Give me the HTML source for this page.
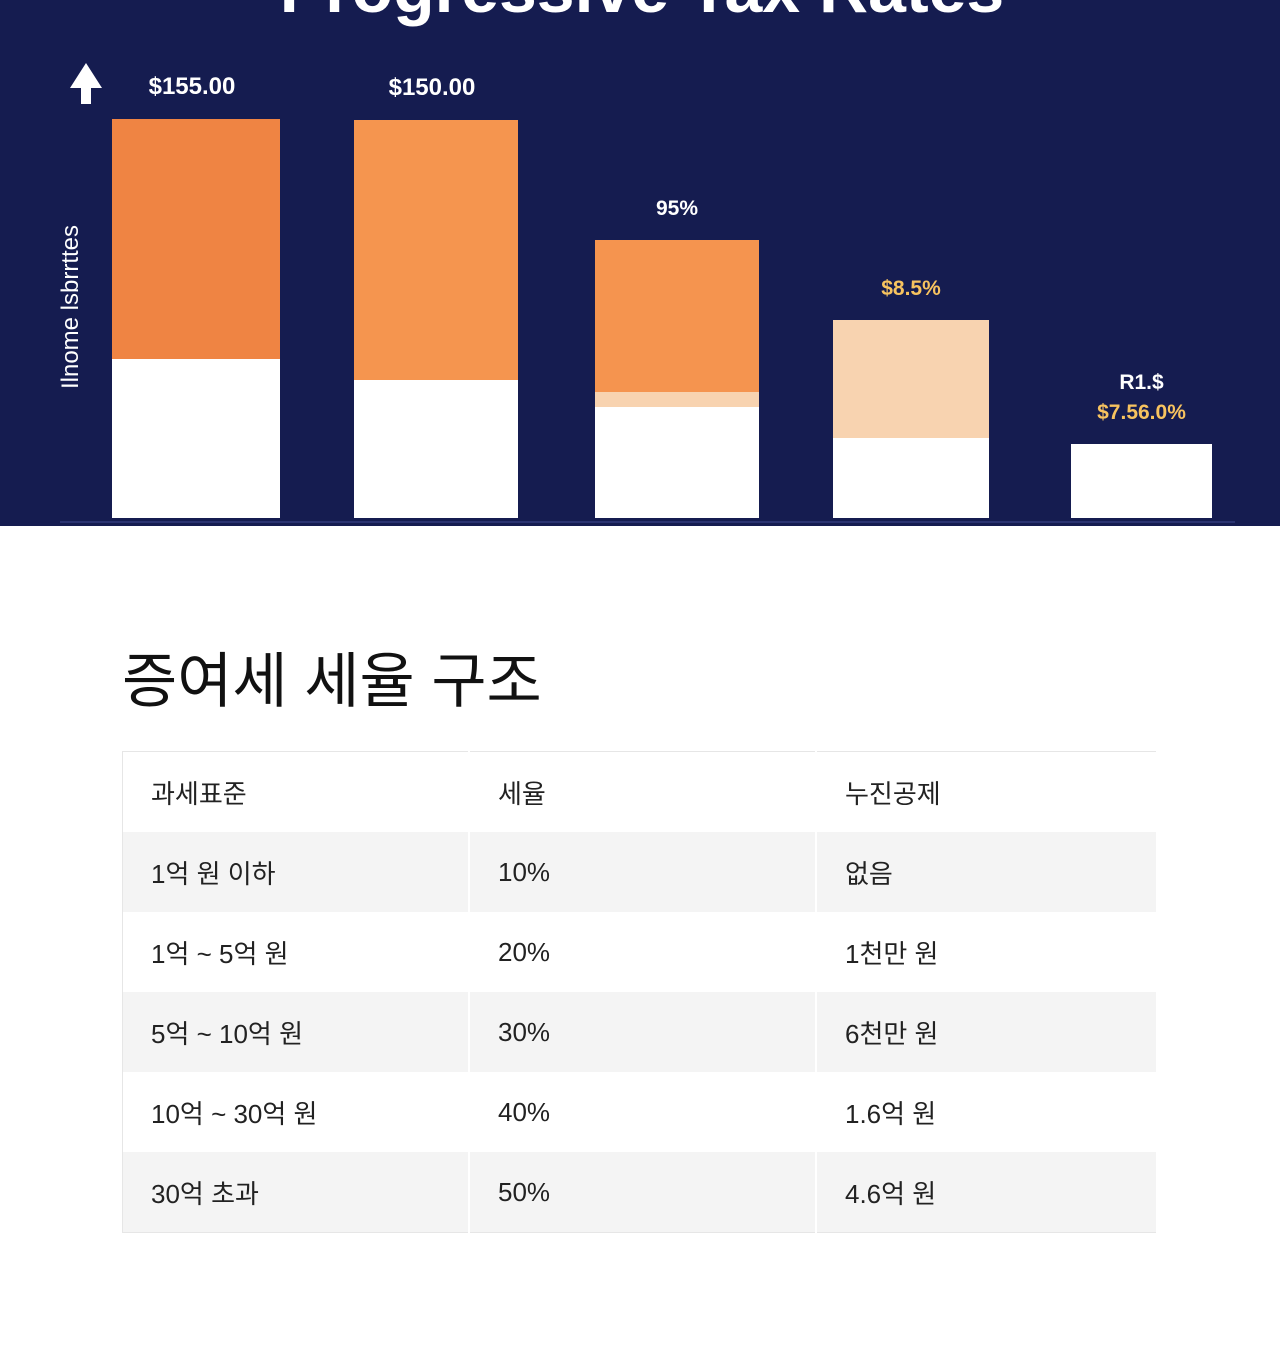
<!DOCTYPE html>
<html><head><meta charset="utf-8">
<style>
html,body{margin:0;padding:0;background:#fff;width:1280px;height:1356px;overflow:hidden;font-family:"Liberation Sans","Noto Sans CJK KR",sans-serif;}
#chart{position:absolute;left:0;top:0;width:1280px;height:526px;}
#ktitle{position:absolute;left:122px;top:646px;font-size:60px;line-height:72px;color:#111;font-family:"Liberation Sans","Noto Sans CJK KR",sans-serif;margin:0;font-weight:400;}
#tbl{position:absolute;left:122px;top:751px;width:1036px;border:1px solid #e6e6e6;border-collapse:collapse;}
#tbl td{height:80px;padding:0 0 0 28px;font-size:26px;color:#222;border-right:2px solid #fff;font-family:"Liberation Sans","Noto Sans CJK KR",sans-serif;}
#tbl tr:nth-child(even) td{background:#f4f4f4;}
#tbl td.c1{width:317px}#tbl td.c2{width:317px}
</style></head><body>
<svg id="chart" width="1280" height="526" viewBox="0 0 1280 526">
<rect x="0" y="0" width="1280" height="526" fill="#151c50"/>
<text x="642" y="12" text-anchor="middle" font-family="Liberation Sans, sans-serif" font-weight="700" font-size="68" fill="#fff">Progressive Tax Rates</text>
<polygon points="86,63 70,88 81,88 81,104 91,104 91,88 102,88" fill="#fff"/>
<text transform="translate(78,307) rotate(-90)" text-anchor="middle" font-family="Liberation Sans, sans-serif" font-size="24" fill="#fff">Ilnome lsbrrttes</text>
<line x1="60" y1="522" x2="1235" y2="522" stroke="#2a3370" stroke-width="2"/>
<g id="bars"></g>
</svg>
<h2 id="ktitle">증여세 세율 구조</h2>
<table id="tbl">
<tr><td class="c1">과세표준</td><td class="c2">세율</td><td>누진공제</td></tr>
<tr><td>1억 원 이하</td><td>10%</td><td>없음</td></tr>
<tr><td>1억 ~ 5억 원</td><td>20%</td><td>1천만 원</td></tr>
<tr><td>5억 ~ 10억 원</td><td>30%</td><td>6천만 원</td></tr>
<tr><td>10억 ~ 30억 원</td><td>40%</td><td>1.6억 원</td></tr>
<tr><td>30억 초과</td><td>50%</td><td>4.6억 원</td></tr>
</table>
<script>
const categories = ["bracket-1","bracket-2","bracket-3","bracket-4","bracket-5"];
const whiteValues = [159,138,111,80,74];
const peachValues = [0,0,15,118,0];
const orangeValues = [240,260,152,0,0];
const valueLabels = [["$155.00"],["$150.00"],["95%"],["$8.5%"],["R1.$","$7.56.0%"]];
const labelColors = [["#fff"],["#fff"],["#fff"],["#f7c35f"],["#fff","#f7c35f"]];
const orangeColors = ["#ef8443","#f5954f","#f5944f","#f5944f","#f5944f"];

const NS="http://www.w3.org/2000/svg";
const baseY=518;
const barLeft=[112,354,595,833,1071];
const barWidth=[168,164,164,156,141];
function yScale(v){return v*1;}
const g=document.getElementById('bars');
function rect(x,y,w,h,fill,name){
  const r=document.createElementNS(NS,'rect');
  r.setAttribute('x',x);r.setAttribute('y',y);r.setAttribute('width',w);r.setAttribute('height',Math.max(0,h));r.setAttribute('fill',fill);
  
  
  g.appendChild(r);
}
categories.forEach((c,i)=>{
  const x=barLeft[i], w=barWidth[i];
  let y=baseY;
  const hw=yScale(whiteValues[i]); y-=hw; rect(x,y,w,hw,"#ffffff",c+'-white-segment');
  const hp=yScale(peachValues[i]); y-=hp; if(hp>0) rect(x,y,w,hp,"#f8d3b0",c+'-peach-segment');
  const ho=yScale(orangeValues[i]); y-=ho; if(ho>0) rect(x,y,w,ho,orangeColors[i],c+'-orange-segment');
  const labs=valueLabels[i];
  labs.forEach((t,j)=>{
    const tx=document.createElementNS(NS,'text');
    tx.setAttribute('x',x+w/2+(i<2?-4:0));
    tx.setAttribute('y',y-25-(labs.length-1-j)*30);
    tx.setAttribute('text-anchor','middle');
    tx.setAttribute('font-family','Liberation Sans, sans-serif');
    tx.setAttribute('font-weight','700');
    tx.setAttribute('font-size',i<2?'24':'21');
    tx.setAttribute('fill',labelColors[i][j]);
    tx.textContent=t;
    
    
    g.appendChild(tx);
  });
});
</script>
</body></html>
